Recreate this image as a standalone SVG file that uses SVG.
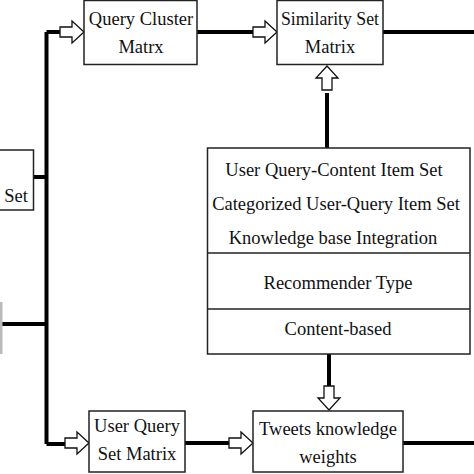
<svg xmlns="http://www.w3.org/2000/svg" xmlns:xlink="http://www.w3.org/1999/xlink" width="474" height="474" viewBox="0 0 474 474">
<style>
.box{fill:#fff;stroke:#222;stroke-width:1.5}
.ln{fill:none;stroke:#000;stroke-width:4}
.ar{fill:#fff;stroke:#111;stroke-width:1.3;stroke-linejoin:miter}
</style>
<defs>
<polygon id="arr" class="ar" points="-24,-5 -12,-5 -12,-11 0,0 -12,11 -12,5 -24,5"/>
</defs>
<rect width="474" height="474" fill="#fff"/>
<g id="connectors">
<path class="ln" d="M46.5,32 V444 M46.5,32 H61 M33,177 H46.5 M0,324 H46.5 M46.5,444 H66"/>
<path class="ln" d="M197,32 H254 M383,32 H474"/>
<path class="ln" d="M185,443 H229 M403,443 H474"/>
<path class="ln" d="M327,148 V93"/>
<path class="ln" d="M329,354 V386"/>
<use xlink:href="#arr" transform="translate(84,32)"/>
<use xlink:href="#arr" transform="translate(277,32)"/>
<use xlink:href="#arr" transform="translate(89,443)"/>
<use xlink:href="#arr" transform="translate(253,443)"/>
<use xlink:href="#arr" transform="translate(327,66) rotate(-90)"/>
<use xlink:href="#arr" transform="translate(329,410) rotate(90)"/>
</g>
<g font-family="Liberation Serif, Times New Roman, serif" font-size="18.5" fill="#111" text-anchor="middle">
<g id="query-cluster">
<rect class="box" x="84" y="0.5" width="113" height="64"/>
<text x="141" y="25">Query Cluster</text>
<text x="141" y="53">Matrx</text>
</g>
<g id="similarity-set">
<rect class="box" x="277" y="0.5" width="106" height="64"/>
<text x="330" y="25" textLength="98" lengthAdjust="spacingAndGlyphs">Similarity Set</text>
<text x="330" y="53">Matrix</text>
</g>
<g id="set">
<rect class="box" x="-5" y="150" width="38.5" height="60"/>
<text x="16" y="202">Set</text>
</g>
<g id="left-lower">
<rect x="0" y="302" width="2.5" height="52" fill="#bbb"/>
</g>
<g id="recommender">
<rect class="box" x="207.5" y="148" width="262.5" height="206"/>
<line class="box" x1="207.5" y1="253" x2="470" y2="253"/>
<line class="box" x1="207.5" y1="309" x2="470" y2="309"/>
<text x="334" y="176">User Query-Content Item Set</text>
<text x="336" y="210">Categorized User-Query Item Set</text>
<text x="333" y="244">Knowledge base Integration</text>
<text x="338" y="289">Recommender Type</text>
<text x="338" y="335">Content-based</text>
</g>
<g id="user-query-set">
<rect class="box" x="89" y="411" width="96" height="61"/>
<text x="137" y="432">User Query</text>
<text x="137" y="460">Set Matrix</text>
</g>
<g id="tweets">
<rect class="box" x="253" y="411" width="150" height="61"/>
<text x="328" y="435">Tweets knowledge</text>
<text x="328" y="463">weights</text>
</g>
</g>
</svg>
